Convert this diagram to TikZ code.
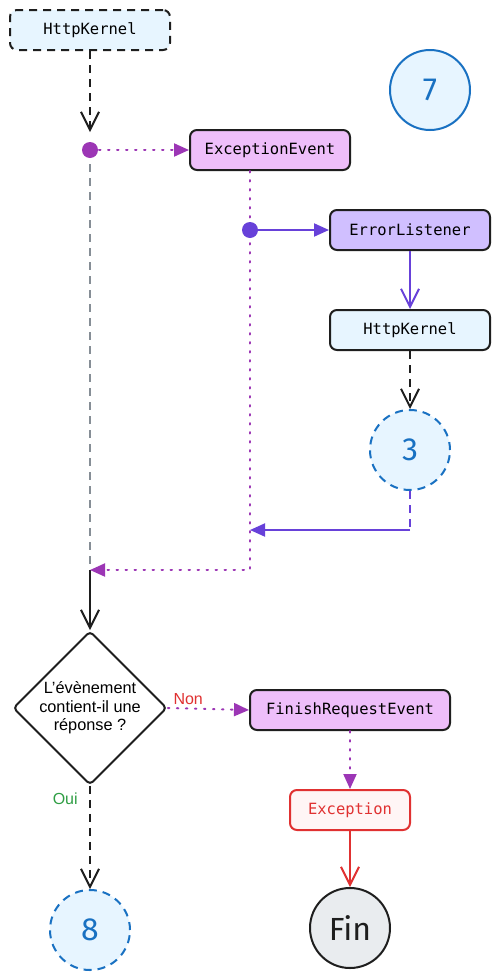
\documentclass[tikz,border=0pt]{standalone}
\usepackage{fontspec}
\setmainfont{Liberation Sans}
\setmonofont{DejaVu Sans Mono}
\newfontfamily\handfont{Fira Sans}
\usetikzlibrary{arrows.meta,shapes.geometric}
\definecolor{ink}{HTML}{1E1E1E}
\definecolor{grape}{HTML}{9C36B5}
\definecolor{violetink}{HTML}{6741D9}
\definecolor{blueink}{HTML}{1971C2}
\definecolor{redink}{HTML}{E03131}
\definecolor{greenink}{HTML}{2F9E44}
\definecolor{grayink}{HTML}{868E96}
\definecolor{bluefill}{HTML}{E7F5FF}
\definecolor{grapefill}{HTML}{EEBEFA}
\definecolor{violetfill}{HTML}{D0BFFF}
\definecolor{redfill}{HTML}{FFF5F5}
\definecolor{grayfill}{HTML}{E9ECEF}

\begin{document}
\begin{tikzpicture}[x=1pt, y=-1pt, line width=2pt,
  kbox/.style={draw=ink, rounded corners=7pt, minimum width=160pt, minimum height=40pt, inner sep=0pt, font=\ttfamily\fontsize{15.5}{18}\selectfont},
  rond/.style={circle, draw=blueink, fill=bluefill, minimum size=80pt, inner sep=0pt, text=blueink, font=\handfont\fontsize{32}{34}\selectfont},
  question/.style={diamond, draw=ink, rounded corners=4pt, minimum width=152pt, minimum height=152pt, inner sep=0pt, align=center, font=\fontsize{16.3}{18.5}\selectfont},
  small/.style={font=\fontsize{16}{18}\selectfont},
  vtip/.style={-{Straight Barb[length=18pt,width=18pt]}},
  ttip/.style={-{Triangle[length=15pt,width=13pt]}},
  dots/.style={line cap=round, dash pattern=on 1.5pt off 7.5pt},
  dashes/.style={dash pattern=on 8pt off 6pt}]
\useasboundingbox[fill=white] (0,0) rectangle (500,980);
\node[kbox, fill=bluefill, dashes] (kernelA) at (90,30) {HttpKernel};
\node[rond] (seven) at (430,90) {7};
\coordinate (dotA) at (90,150); \coordinate (dotB) at (250,230);
\node[kbox, fill=grapefill] (excEvt) at (270,150) {ExceptionEvent};
\node[kbox, fill=violetfill] (errLst) at (410,230) {ErrorListener};
\node[kbox, fill=bluefill] (kernelB) at (410,330) {HttpKernel};
\node[rond, dashes] (three) at (410,450) {3};
\coordinate (turn) at (410,530); \coordinate (back) at (250,530); \coordinate (join) at (90,570);
\node[question] (resp) at (90,708) {L'évènement\\contient-il une\\réponse ?};
\node[kbox, fill=grapefill, minimum width=200pt] (finish) at (350,710) {FinishRequestEvent};
\node[kbox, draw=redink, fill=redfill, text=redink, minimum width=120pt] (exc) at (350,810) {Exception};
\node[rond, draw=ink, fill=grayfill, text=ink] (fin) at (350,928) {Fin};
\node[rond, dashes] (eight) at (90,930) {8};
% main line
\draw[ink, dashes, vtip, shorten >=18pt] (kernelA) -- (dotA);
\draw[grayink, dashes] (dotA) -- (join);
\draw[ink, vtip] (join) -- (resp.north);
\draw[grape, dots, ttip] (dotA) -- (excEvt.west);
\draw[grape, dots, ttip] (excEvt.south -| dotB) |- (join);
\draw[violetink, ttip] (dotB) -- (errLst.west);
\draw[violetink, vtip] (errLst) -- (kernelB);
\draw[ink, dashes, vtip] (kernelB) -- (three);
\draw[violetink, dashes] (three) -- (turn); \draw[violetink, ttip] (turn) -- (back);
\foreach \p/\c in {dotA/grape, dotB/violetink} \fill[\c] (\p) circle (8pt);
% answer
\draw[grape, dots, ttip] (resp.east) -- node[above, pos=0.25, text=redink, small] (non) {Non} (finish.west);
\draw[ink, dashes, vtip] (resp.south) -- node[left, pos=0.12, xshift=-8pt, text=greenink, small] (oui) {Oui} (eight.north);
\draw[grape, dots, ttip] (finish) -- (exc);
\draw[redink, vtip] (exc) -- (fin);
\end{tikzpicture}
\end{document}
